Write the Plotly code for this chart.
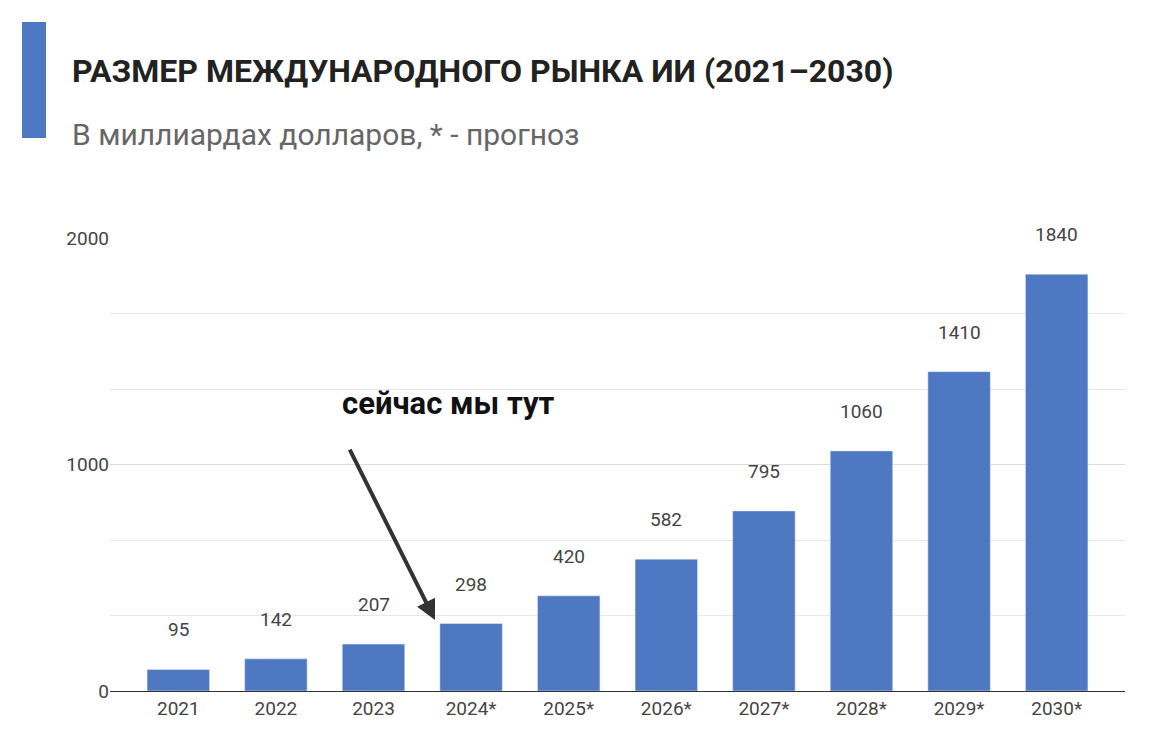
import plotly.graph_objects as go

years = ["2021", "2022", "2023", "2024*", "2025*", "2026*", "2027*", "2028*", "2029*", "2030*"]
values = [95, 142, 207, 298, 420, 582, 795, 1060, 1410, 1840]
title = "РАЗМЕР МЕЖДУНАРОДНОГО РЫНКА ИИ (2021–2030)"
subtitle = "В миллиардах долларов, * - прогноз"
note = "сейчас мы тут"

W, H = 1150, 742
OFF = 8  # page body margin
L, R, T, B = 110 - OFF, 25 + OFF, 238 - OFF, 51 + OFF
def px(x): return (x - OFF - L) / (W - L - R)
def py(y): return (H - B - (y - OFF)) / (H - T - B)

fig = go.Figure(go.Bar(x=years, y=values, marker_color="#4e79c2", width=0.64))
for i, v in enumerate(values):
    fig.add_annotation(x=i, y=v, xref="x", yref="y", text=str(v), showarrow=False, yanchor="bottom",
                       yshift=26, font=dict(size=19, color="#444", family="Roboto"))
fig.add_annotation(x=2.63, y=313, xref="x", yref="y", text="", showarrow=True, arrowhead=2,
                   arrowsize=1, arrowwidth=4, arrowcolor="#333", ax=-86, ay=-172)
fig.add_annotation(xref="paper", yref="paper", x=px(340), y=py(403), text=f"<b>{note}</b>",
                   showarrow=False, font=dict(size=31, color="#111", family="Roboto"))
fig.add_annotation(xref="paper", yref="paper", x=px(70), y=py(50), xanchor="left", text=f"<b>{title}</b>",
                   showarrow=False, font=dict(size=32, color="#222", family="Roboto"))
fig.add_annotation(xref="paper", yref="paper", x=px(70), y=py(115), xanchor="left", text=subtitle,
                   showarrow=False, font=dict(size=30, color="#666", family="Roboto"))
fig.add_shape(type="rect", xref="paper", yref="paper", x0=px(22), x1=px(46), y0=py(138), y1=py(22),
              fillcolor="#4e79c2", line_width=0)

fig.update_layout(width=W, height=H, margin=dict(l=L, r=R, t=T, b=B), plot_bgcolor="white",
                  paper_bgcolor="white", showlegend=False, font=dict(family="Roboto", color="#444"))
fig.update_xaxes(type="category", range=[-0.7, 9.7], showgrid=False, tickfont=dict(size=19, color="#444"),
                 ticks="", showline=True, linecolor="#333", linewidth=1)
fig.update_yaxes(range=[0, 2000], tickvals=[0, 1000, 2000], gridcolor="#ddd", zeroline=False,
                 tickfont=dict(size=19, color="#444"), ticklen=0, ticks="",
                 minor=dict(dtick=1000/3, showgrid=True, gridcolor="#e8e8e8"))
fig.write_html("out.html")
